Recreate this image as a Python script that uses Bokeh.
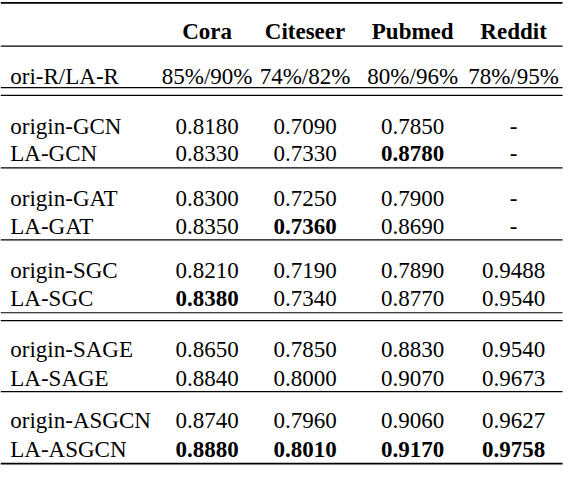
from bokeh.plotting import figure
from bokeh.models import ColumnDataSource, Range1d
from bokeh.core.properties import value
from bokeh.embed import file_html
from bokeh.resources import INLINE

# ---- data ----
datasets = ["Cora", "Citeseer", "Pubmed", "Reddit"]
ratio_label = "ori-R/LA-R"
ratios = ["85%/90%", "74%/82%", "80%/96%", "78%/95%"]
methods = ["origin-GCN", "LA-GCN", "origin-GAT", "LA-GAT", "origin-SGC", "LA-SGC",
           "origin-SAGE", "LA-SAGE", "origin-ASGCN", "LA-ASGCN"]
cora = [0.8180, 0.8330, 0.8300, 0.8350, 0.8210, 0.8380, 0.8650, 0.8840, 0.8740, 0.8880]
citeseer = [0.7090, 0.7330, 0.7250, 0.7360, 0.7190, 0.7340, 0.7850, 0.8000, 0.7960, 0.8010]
pubmed = [0.7850, 0.8780, 0.7900, 0.8690, 0.7890, 0.8770, 0.8830, 0.9070, 0.9060, 0.9170]
reddit = [None, None, None, None, 0.9488, 0.9540, 0.9540, 0.9673, 0.9627, 0.9758]
# bold cells: (method, dataset)
bold_cells = [("LA-GCN", "Pubmed"), ("LA-GAT", "Citeseer"), ("LA-SGC", "Cora"),
              ("LA-ASGCN", "Cora"), ("LA-ASGCN", "Citeseer"), ("LA-ASGCN", "Pubmed"),
              ("LA-ASGCN", "Reddit")]

# ---- layout (in reference pixel coordinates) ----
FONT = value("'Liberation Serif', serif")
FS = "23px"
col_x = [211, 311, 421, 524]
label_x = 10
header_base = 33
ratio_base = 79
row_base = [131, 158, 205, 233, 279, 307, 360, 390, 433, 463]
rule_x0, rule_x1 = 0, 574
thick_rules = [3.5, 477]
thin_rules = [48, 90.5, 98.5, 173, 247, 322, 330, 403]

p = figure(width=563, height=465, output_backend="svg", toolbar_location=None,
           x_range=Range1d(0, 575), y_range=Range1d(479, 1),
           min_border=0, outline_line_color=None, background_fill_color="white",
           border_fill_color="white")
p.axis.visible = False
p.grid.visible = False

# rules
p.segment(x0=[rule_x0] * len(thick_rules), x1=[rule_x1] * len(thick_rules),
          y0=thick_rules, y1=thick_rules, line_color="black", line_width=1.8)
p.segment(x0=[rule_x0] * len(thin_rules), x1=[rule_x1] * len(thin_rules),
          y0=thin_rules, y1=thin_rules, line_color="black", line_width=1.2)

# header
p.text(x=col_x, y=[header_base] * 4, text=datasets, text_font=FONT, text_font_size=FS,
       text_font_style="bold", text_align="center", text_baseline="alphabetic",
       text_color="black")

# ratio row
p.text(x=[label_x], y=[ratio_base], text=[ratio_label], text_font=FONT, text_font_size=FS,
       text_align="left", text_baseline="alphabetic", text_color="black")
p.text(x=col_x, y=[ratio_base] * 4, text=ratios, text_font=FONT, text_font_size=FS,
       text_align="center", text_baseline="alphabetic", text_color="black")

# method labels
p.text(x=[label_x] * len(methods), y=row_base, text=methods, text_font=FONT,
       text_font_size=FS, text_align="left", text_baseline="alphabetic", text_color="black")

# values
series = {"Cora": cora, "Citeseer": citeseer, "Pubmed": pubmed, "Reddit": reddit}
bold_set = set(bold_cells)
norm = dict(x=[], y=[], t=[])
bold = dict(x=[], y=[], t=[])
for ci, ds in enumerate(datasets):
    for ri, m in enumerate(methods):
        v = series[ds][ri]
        s = "-" if v is None else f"{v:.4f}"
        target = bold if (m, ds) in bold_set else norm
        target["x"].append(col_x[ci])
        target["y"].append(row_base[ri])
        target["t"].append(s)

p.text(x="x", y="y", text="t", source=ColumnDataSource(norm), text_font=FONT,
       text_font_size=FS, text_align="center", text_baseline="alphabetic", text_color="black")
p.text(x="x", y="y", text="t", source=ColumnDataSource(bold), text_font=FONT,
       text_font_size=FS, text_font_style="bold", text_align="center",
       text_baseline="alphabetic", text_color="black")

open("out.html", "w").write(file_html(p, INLINE))
